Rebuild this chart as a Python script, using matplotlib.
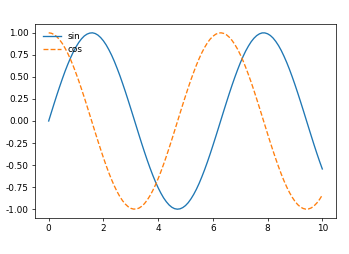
import matplotlib
matplotlib.use("Agg")
import matplotlib.pyplot as plt

# values, every 0.1 along x
x_vals = [0.0, 0.1, 0.2, 0.3, 0.4, 0.5, 0.6, 0.7, 0.8, 0.9,
          1.0, 1.1, 1.2, 1.3, 1.4, 1.5, 1.6, 1.7, 1.8, 1.9,
          2.0, 2.1, 2.2, 2.3, 2.4, 2.5, 2.6, 2.7, 2.8, 2.9,
          3.0, 3.1, 3.2, 3.3, 3.4, 3.5, 3.6, 3.7, 3.8, 3.9,
          4.0, 4.1, 4.2, 4.3, 4.4, 4.5, 4.6, 4.7, 4.8, 4.9,
          5.0, 5.1, 5.2, 5.3, 5.4, 5.5, 5.6, 5.7, 5.8, 5.9,
          6.0, 6.1, 6.2, 6.3, 6.4, 6.5, 6.6, 6.7, 6.8, 6.9,
          7.0, 7.1, 7.2, 7.3, 7.4, 7.5, 7.6, 7.7, 7.8, 7.9,
          8.0, 8.1, 8.2, 8.3, 8.4, 8.5, 8.6, 8.7, 8.8, 8.9,
          9.0, 9.1, 9.2, 9.3, 9.4, 9.5, 9.6, 9.7, 9.8, 9.9,
          10.0]

sin_vals = [0.000, 0.100, 0.199, 0.296, 0.389, 0.479, 0.565, 0.644, 0.717, 0.783,
            0.841, 0.891, 0.932, 0.964, 0.985, 0.997, 1.000, 0.992, 0.974, 0.946,
            0.909, 0.863, 0.808, 0.746, 0.676, 0.598, 0.516, 0.427, 0.335, 0.239,
            0.141, 0.042, -0.058, -0.158, -0.256, -0.351, -0.443, -0.530, -0.612, -0.688,
            -0.757, -0.818, -0.872, -0.916, -0.952, -0.978, -0.994, -1.000, -0.996, -0.982,
            -0.959, -0.926, -0.883, -0.832, -0.773, -0.706, -0.631, -0.551, -0.465, -0.374,
            -0.279, -0.182, -0.083, 0.017, 0.117, 0.215, 0.312, 0.405, 0.494, 0.578,
            0.657, 0.729, 0.794, 0.850, 0.899, 0.938, 0.968, 0.988, 0.999, 0.999,
            0.989, 0.970, 0.941, 0.902, 0.855, 0.799, 0.734, 0.663, 0.585, 0.501,
            0.412, 0.319, 0.223, 0.125, 0.025, -0.075, -0.174, -0.272, -0.367, -0.458,
            -0.544]

cos_vals = [1.000, 0.995, 0.980, 0.955, 0.921, 0.878, 0.825, 0.765, 0.697, 0.622,
            0.540, 0.454, 0.362, 0.268, 0.170, 0.071, -0.029, -0.129, -0.227, -0.323,
            -0.416, -0.505, -0.589, -0.666, -0.737, -0.801, -0.857, -0.904, -0.942, -0.971,
            -0.990, -0.999, -0.998, -0.988, -0.967, -0.937, -0.897, -0.848, -0.791, -0.726,
            -0.654, -0.575, -0.490, -0.401, -0.307, -0.211, -0.112, -0.012, 0.088, 0.187,
            0.284, 0.378, 0.469, 0.554, 0.635, 0.709, 0.776, 0.835, 0.886, 0.928,
            0.960, 0.983, 0.997, 1.000, 0.993, 0.977, 0.950, 0.914, 0.869, 0.816,
            0.754, 0.685, 0.608, 0.526, 0.439, 0.347, 0.251, 0.153, 0.054, -0.046,
            -0.146, -0.244, -0.339, -0.431, -0.519, -0.602, -0.679, -0.749, -0.811, -0.865,
            -0.911, -0.948, -0.975, -0.992, -1.000, -0.997, -0.985, -0.962, -0.930, -0.889,
            -0.839]

plt.rcParams['axes.unicode_minus'] = False

W, H = 349, 254
dpi = 64
fig = plt.figure(figsize=(W / dpi, H / dpi), dpi=dpi)
ax = fig.add_axes([35 / W, 36 / H, 301 / W, 194 / H])

ax.plot(x_vals, sin_vals, label="sin")
ax.plot(x_vals, cos_vals, "--", label="cos")
ax.legend(loc="upper left", frameon=False)

fig.savefig("out.png", dpi=dpi)
